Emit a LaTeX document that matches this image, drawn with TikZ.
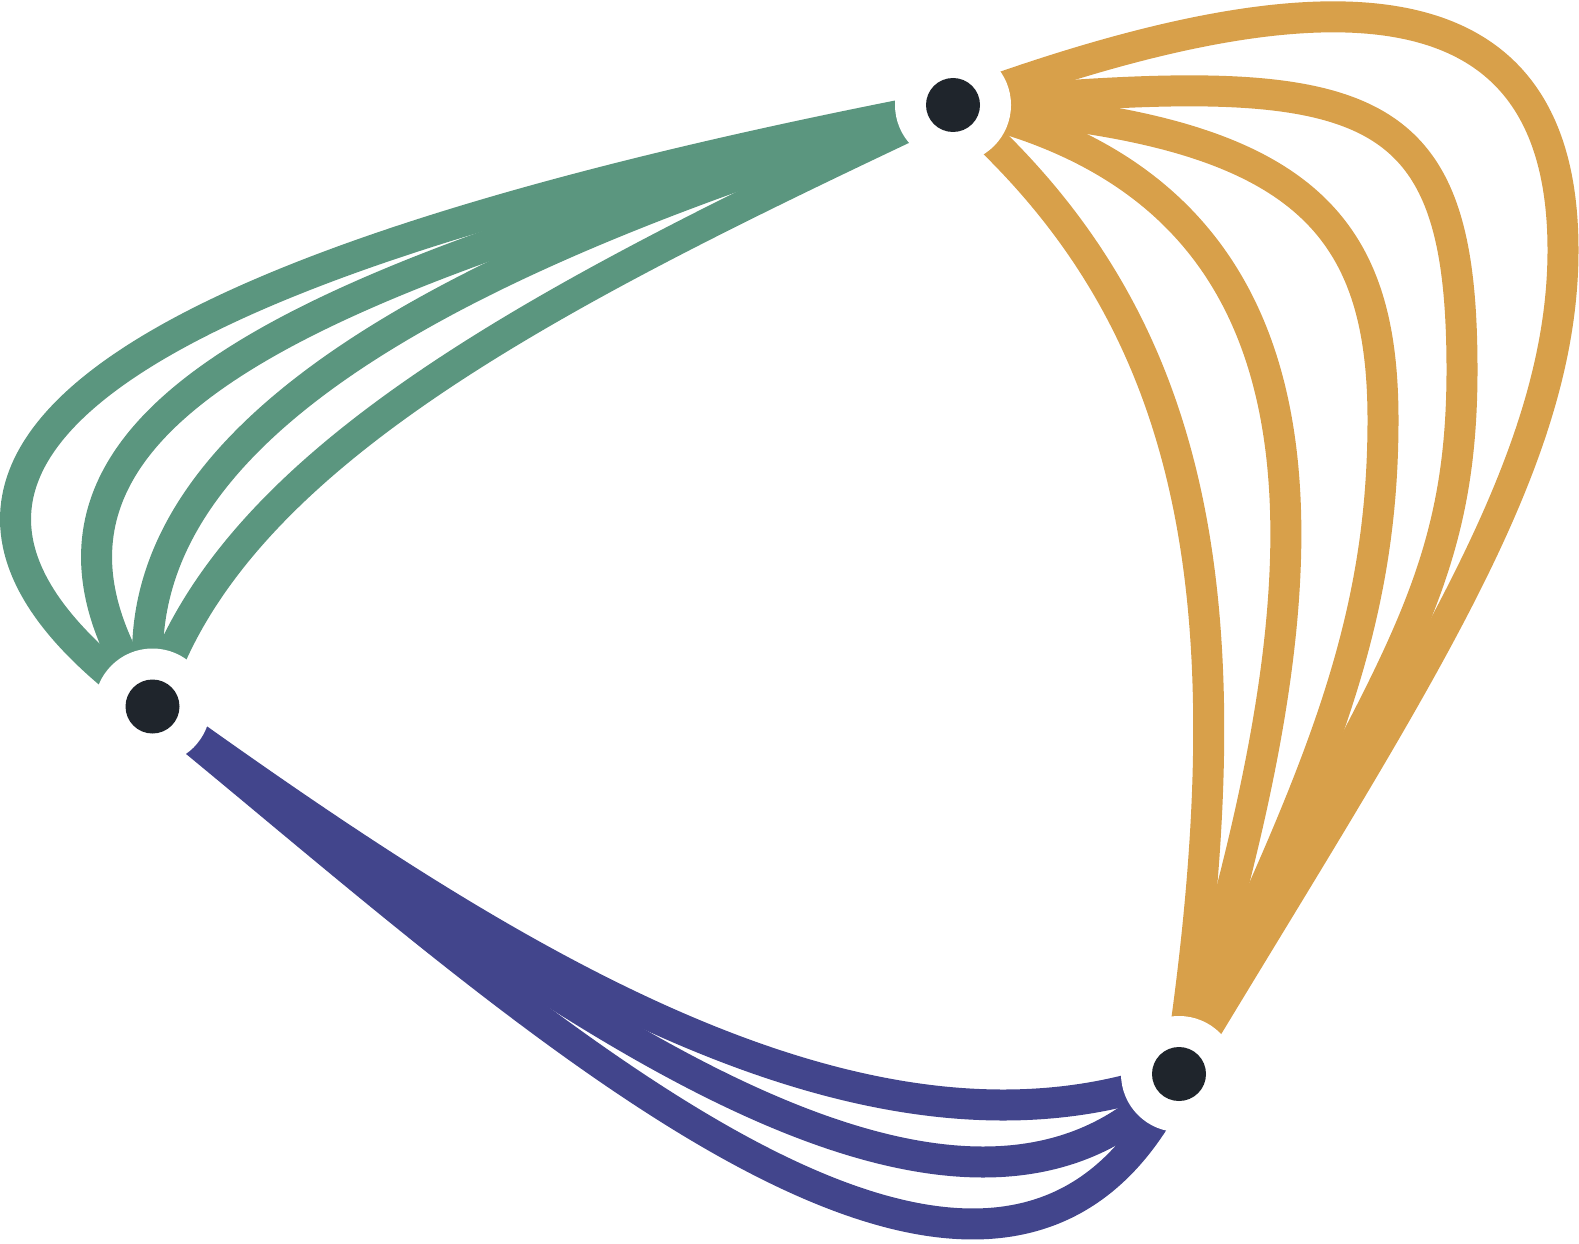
\documentclass[tikz,border=0pt]{standalone}
\definecolor{grn}{HTML}{5B967F}
\definecolor{org}{HTML}{D8A04A}
\definecolor{pur}{HTML}{42458C}
\definecolor{ink}{HTML}{1F252C}
\begin{document}
\begin{tikzpicture}[x=1pt,y=-1pt,
  strand/.style={line width=31pt, line join=round},
  halo/.style={circle, fill=white, minimum size=116pt, inner sep=0pt},
  hub/.style={circle, fill=ink, minimum size=54pt, inner sep=0pt}]
\useasboundingbox (0,0) rectangle (1579,1244);
\coordinate (A) at (953,105);
\coordinate (B) at (152.5,706.5);
\coordinate (C) at (1179,1074);
% green bundle B -> A
\draw[strand,grn] (B) .. controls (-250,420) and (300,230) .. (A);
\draw[strand,grn] (B) .. controls (-60,400) and (360,268) .. (A);
\draw[strand,grn] (B) .. controls (100,430) and (470,250) .. (A);
\draw[strand,grn] (B) .. controls (225,455) and (560,290) .. (A);
% orange bundle A -> C
\draw[strand,org] (A) .. controls (1371,-50) and (1563,0) .. (1563,250) .. controls (1563,470) and (1410,690) .. (C);
\draw[strand,org] (A) .. controls (1369,67) and (1462,90) .. (1462,370) .. controls (1462,600) and (1380,680) .. (C);
\draw[strand,org] (A) .. controls (1300,125) and (1383,220) .. (1383,420) .. controls (1383,640) and (1310,790) .. (C);
\draw[strand,org] (A) .. controls (1400,200) and (1310,650) .. (C);
\draw[strand,org] (A) .. controls (1190,310) and (1254,579) .. (C);
% purple bundle B -> C
\draw[strand,pur] (B) .. controls (476.5,938.5) and (857,1195) .. (C);
\draw[strand,pur] (B) .. controls (475,940) and (950,1340) .. (C);
\draw[strand,pur] (B) .. controls (500,988) and (1000,1470) .. (C);
% hubs
\foreach \n in {A,B,C} {
  \node[halo] (h\n) at (\n) {};
  \node[hub] (d\n) at (\n) {};
}
\end{tikzpicture}
\end{document}
